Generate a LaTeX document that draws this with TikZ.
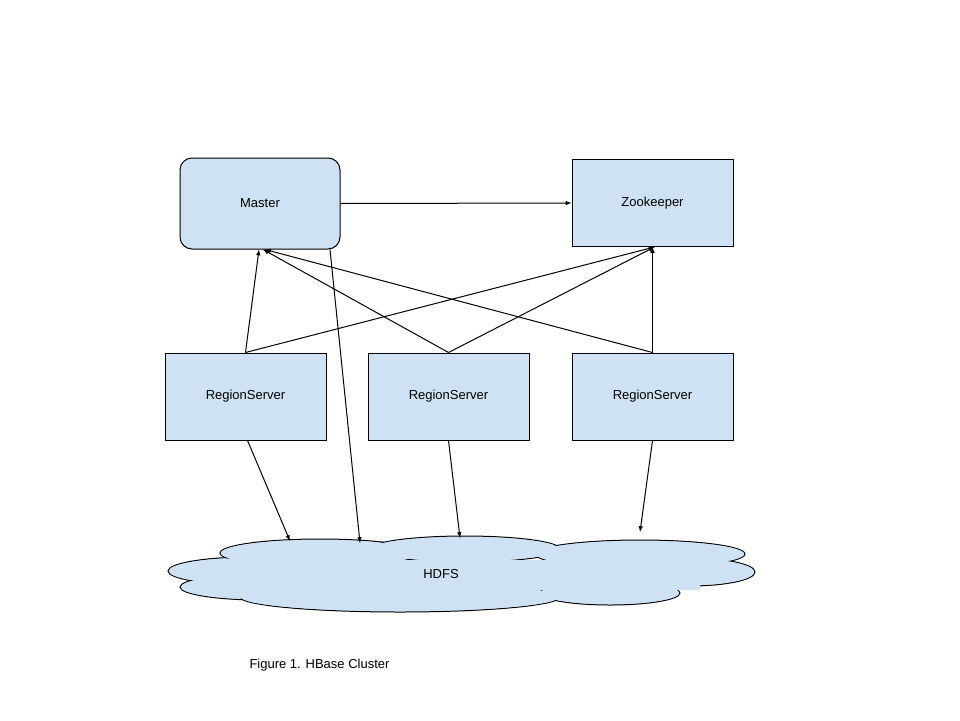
\documentclass[tikz,border=0pt]{standalone}
\usepackage{fontspec}
\setmainfont{Liberation Sans}
\begin{document}
\begin{tikzpicture}[x=1pt,y=-1pt,
  box/.style={draw=black,fill=boxblue,line width=1pt,minimum width=161pt,minimum height=87pt,inner sep=0pt,font=\fontsize{13}{15}\selectfont},
  arr/.style={-latex,line width=1pt},
  cl/.style={draw=black,fill=boxblue,line width=1pt}]
\definecolor{boxblue}{HTML}{CFE2F3}
\useasboundingbox (0,0) rectangle (960,720);
\node[box,rounded corners=12pt,minimum width=160pt,minimum height=91pt] (m) at (260,203.5) {Master};
\node[box] (z) at (652.5,203) {Zookeeper};
\node[box] (r1) at (245.5,396.5) {RegionServer};
\node[box] (r2) at (448.5,396.5) {RegionServer};
\node[box] (r3) at (652.5,396.5) {RegionServer};
% cloud
\begin{scope}
\foreach \cx/\cy/\rx/\ry in {250/571/82/14, 260/587/80/13, 320/553/100/14, 465/549/95/13, 640/554/105/14, 690/572/65/14, 400/597/160/15, 610/593/70/12}
  \draw[cl] (\cx,\cy) ellipse ({\rx} and {\ry});
\foreach \cx/\cy/\rx/\ry in {250/571/82/14, 260/587/80/13, 320/553/100/14, 465/549/95/13, 640/554/105/14, 690/572/65/14, 400/597/160/15, 610/593/70/12}
  \fill[boxblue] (\cx,\cy) ellipse ({\rx-1} and {\ry-1});
\fill[boxblue] (240,560) rectangle (700,590);
\end{scope}
\node[font=\fontsize{13}{15}\selectfont] (h) at (441,574) {HDFS};
\coordinate (hm) at (360,543);
\coordinate (h1) at (290,541);
\coordinate (h2) at (460,538);
\coordinate (h3) at (640,532);
\draw[arr] (m.east) -- (z.west);
\draw[arr] ([xshift=0pt]r1.north) -- ([xshift=-1pt]m.south);
\draw[arr] (r1.north) -- ([xshift=2pt]z.south);
\draw[arr] (r2.north) -- ([xshift=3pt]m.south);
\draw[arr] (r2.north) -- ([xshift=2pt]z.south);
\draw[arr] (r3.north) -- ([xshift=5pt]m.south);
\draw[arr] (r3.north) -- (z.south);
\draw[arr] ([xshift=70pt]m.south) -- (hm);
\draw[arr] ([xshift=2pt]r1.south) -- (h1);
\draw[arr] (r2.south) -- (h2);
\draw[arr] (r3.south) -- (h3);
\node[font=\fontsize{13}{15}\selectfont,anchor=west] (cap) at (246,665) {Figure 1. HBase Cluster};
\end{tikzpicture}
\end{document}
